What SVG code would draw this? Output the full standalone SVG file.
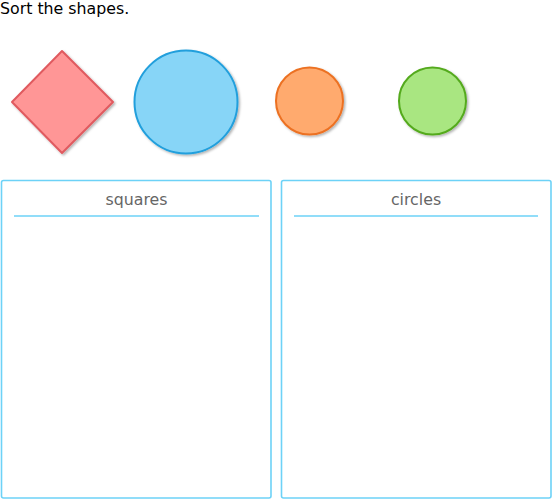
<svg xmlns="http://www.w3.org/2000/svg" width="553" height="500" viewBox="0 0 553 500">
<style>
.t{font-family:"DejaVu Sans",Verdana,sans-serif;font-size:15.8px}
.h{fill:#666;text-anchor:middle}
.box{fill:#fff;stroke:#6dd2f7;stroke-width:1.6}
.ln{stroke:#6dd2f7;stroke-width:1.5}
</style>
<defs>
<filter id="sh" x="-20%" y="-20%" width="140%" height="140%">
<feDropShadow dx="1.5" dy="1.5" stdDeviation="1" flood-color="#000" flood-opacity="0.3"/>
</filter>
</defs>
<text class="t" x="0" y="13.5" fill="#000">Sort the shapes.</text>
<g id="diamond" filter="url(#sh)"><polygon points="62,51 113,102 62,153 12,102" fill="#ff9696" stroke="#e05a5f" stroke-width="2" stroke-linejoin="round"/></g>
<g id="circle-blue" filter="url(#sh)"><circle cx="186" cy="102" r="51.5" fill="#87d5f7" stroke="#219fdc" stroke-width="2"/></g>
<g id="circle-orange" filter="url(#sh)"><circle cx="309.5" cy="101" r="33.5" fill="#ffaa6e" stroke="#ec7122" stroke-width="2"/></g>
<g id="circle-green" filter="url(#sh)"><circle cx="432.5" cy="101" r="33.5" fill="#a9e681" stroke="#54aa1e" stroke-width="2"/></g>
<g id="squares-bin">
<rect class="box" x="1.5" y="180.5" width="269.5" height="317.5" rx="2"/>
<line class="ln" x1="14" y1="216" x2="259" y2="216"/>
<text class="t h" x="136.5" y="204.5">squares</text>
</g>
<g id="circles-bin">
<rect class="box" x="281.5" y="180.5" width="269.5" height="317.5" rx="2"/>
<line class="ln" x1="294" y1="216" x2="538" y2="216"/>
<text class="t h" x="416" y="204.5">circles</text>
</g>
<g id="connectors"></g>
</svg>
